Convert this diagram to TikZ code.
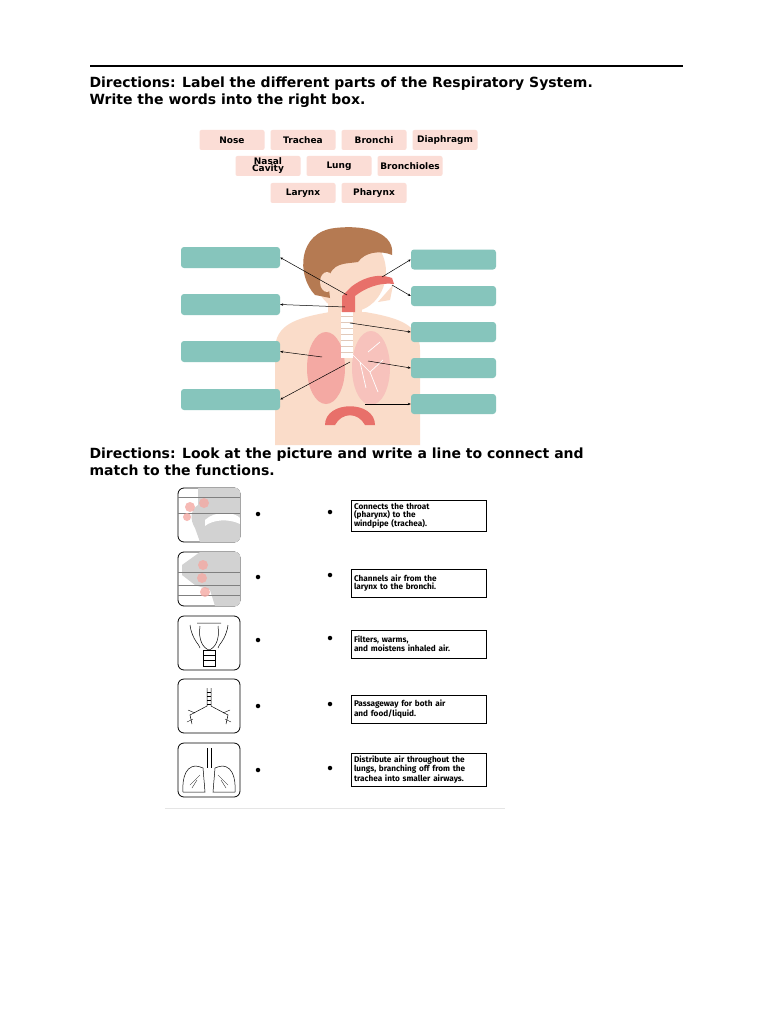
\documentclass[tikz,border=0pt]{standalone}
\usepackage{fontspec}
\setmainfont{DejaVu Sans}
\newfontfamily\smallf{Fira Sans}
\usetikzlibrary{arrows.meta}
\begin{document}
\begin{tikzpicture}[x=1pt,y=-1pt,
  word/.style={fill=pinkbox,rounded corners=2pt,minimum width=65pt,minimum height=20pt,inner sep=0pt,font=\fontsize{9}{8}\selectfont\bfseries,align=center},
  ans/.style={fill=teal1,rounded corners=3pt,inner sep=0pt},
  arr/.style={-{Stealth[length=3pt,width=2.5pt]},line width=0.5pt},
  icon/.style={draw,line width=0.8pt,rounded corners=6pt,minimum width=62pt,minimum height=54pt,inner sep=0pt},
  func/.style={draw,line width=0.6pt,minimum width=135pt,minimum height=28pt,inner sep=3pt,text width=129pt,align=left,font=\smallf\fontsize{8.2}{7.6}\selectfont\bfseries},
  dot/.style={circle,fill=black,inner sep=0pt,minimum size=4.5pt},
  dir/.style={anchor=west,font=\fontsize{14}{17}\selectfont\bfseries,align=left}]
\definecolor{pinkbox}{HTML}{FBDDD6}
\definecolor{teal1}{HTML}{86C5BC}
\definecolor{skin}{HTML}{FADCC9}
\definecolor{hair}{HTML}{B57A52}
\definecolor{lungA}{HTML}{F4A9A3}
\definecolor{lungB}{HTML}{F7C2BC}
\definecolor{redA}{HTML}{E8706A}
\useasboundingbox[fill=white] (0,0) rectangle (768,1024);
\draw[line width=2.5pt] (90,66) -- (683,66);
\node[dir] (d1) at (86,92) {Directions: Label the different parts of the Respiratory System.\\Write the words into the right box.};
\node[dir] (d2) at (86,462) {Directions: Look at the picture and write a line to connect and\\match to the functions.};
% word bank
\node[word] (w1) at (232,140) {Nose};
\node[word] (w2) at (303,140) {Trachea};
\node[word] (w3) at (374,140) {Bronchi};
\node[word] (w4) at (445,140) {Diaphragm};
\node[word,font=\fontsize{9}{7}\selectfont\bfseries] (w5) at (268,166) {Nasal\\Cavity};
\node[word] (w6) at (339,166) {Lung};
\node[word] (w7) at (410,166) {Bronchioles};
\node[word] (w8) at (303,193) {Larynx};
\node[word] (w9) at (374,193) {Pharynx};
% person
\fill[skin] (275,445) -- (275,350) .. controls (275,325) and (295,318) .. (330,312) -- (365,312) .. controls (400,318) and (420,325) .. (420,350) -- (420,445) -- cycle;
\fill[skin] (328,290) rectangle (362,320);
\fill[skin] (350,272) ellipse (36pt and 40pt);
\fill[skin] (393,285) -- (390,300) -- (378,302) -- cycle;
\fill[hair] (315,295) .. controls (296,275) and (298,232) .. (335,228) .. controls (370,224) and (395,235) .. (392,255) .. controls (380,250) and (365,252) .. (358,262) .. controls (345,264) and (332,262) .. (328,280) -- (330,298) -- cycle;
\fill[skin] (327,282) ellipse (7pt and 10pt);
\fill[lungA] (326,368) ellipse (19pt and 36pt);
\fill[lungB] (371,368) ellipse (19pt and 37pt);
\draw[white,line width=0.7pt] (350,352) -- (370,372) -- (378,392) (370,372) -- (383,360) (360,362) -- (366,388) (368,352) -- (380,342);
\fill[white] (341,312) rectangle (353,358);
\draw[skin!80!gray,line width=0.4pt] \foreach \y in {316,322,...,352} {(341,\y) -- (353,\y)};
\fill[redA] (342,296) -- (351,287) .. controls (360,280) and (375,272) .. (392,278) -- (394,284) .. controls (380,282) and (365,288) .. (355,296) -- (355,312) -- (342,312) -- cycle;
\fill[redA] (325,425) .. controls (325,400) and (375,400) .. (375,425) -- (365,425) .. controls (358,412) and (342,412) .. (335,425) -- cycle;
\coordinate (pL1) at (347,295); \coordinate (pL2) at (345,307);
\coordinate (pL3) at (322,357); \coordinate (pL4) at (350,362);
\coordinate (pR1) at (382,277); \coordinate (pR2) at (392,285);
\coordinate (pR3) at (350,323); \coordinate (pR4) at (368,361);
\coordinate (pR5) at (365,404);
% answer boxes
\node[ans,minimum width=99pt,minimum height=21pt] (l1) at (230.5,257.5) {};
\node[ans,minimum width=99pt,minimum height=21pt] (l2) at (230.5,304.5) {};
\node[ans,minimum width=99pt,minimum height=21pt] (l3) at (230.5,351.5) {};
\node[ans,minimum width=99pt,minimum height=21pt] (l4) at (230.5,399.5) {};
\node[ans,minimum width=85pt,minimum height=20pt] (r1) at (453.5,259.5) {};
\node[ans,minimum width=85pt,minimum height=20pt] (r2) at (453.5,296) {};
\node[ans,minimum width=85pt,minimum height=20pt] (r3) at (453.5,332) {};
\node[ans,minimum width=85pt,minimum height=20pt] (r4) at (453.5,368) {};
\node[ans,minimum width=85pt,minimum height=20pt] (r5) at (453.5,404) {};
\draw[arr] (pL1) -- (l1.east);
\draw[arr] (pL2) -- (l2.east);
\draw[arr] (pL3) -- (l3.east);
\draw[arr] (pL4) -- (l4.east);
\draw[arr] (pR1) -- (r1.west);
\draw[arr] (pR2) -- (r2.west);
\draw[arr] (pR3) -- (r3.west);
\draw[arr] (pR4) -- (r4.west);
\draw[arr] (pR5) -- (r5.west);
% matching section
\node[icon] (i1) at (209,515) {};
\node[icon] (i2) at (209,579) {};
\node[icon] (i3) at (209,643) {};
\node[icon] (i4) at (209,706) {};
\node[icon] (i5) at (209,770) {};
\begin{scope}
\clip[rounded corners=6pt] (i1.south west) rectangle (i1.north east);
\fill[gray!35] (198,488) -- (198,505) .. controls (190,510) and (190,520) .. (195,528) -- (200,542) -- (240,542) -- (240,488) -- cycle;
\fill[white] (205,520) .. controls (215,510) and (235,512) .. (240,518) -- (240,524) .. controls (228,518) and (212,520) .. (205,526) -- cycle;
\draw[gray,line width=0.3pt] (178,497)--(240,497) (178,513)--(240,513);
\fill[lungA,opacity=0.8] (190,507) circle (5pt) (204,503) circle (5pt) (187,517) circle (4pt);
\end{scope}
\begin{scope}
\clip[rounded corners=6pt] (i2.south west) rectangle (i2.north east);
\fill[gray!35] (182,565) -- (200,552) -- (240,552) -- (240,606) -- (215,606) -- (210,590) -- (195,585) -- (182,575) -- cycle;
\draw[gray,line width=0.3pt] (178,572)--(240,572) (178,585)--(240,585) (178,595)--(240,595);
\fill[lungA,opacity=0.8] (203,565) circle (5pt) (202,578) circle (5pt) (205,592) circle (5pt);
\end{scope}
\draw[line width=0.5pt] (197,623) -- (221,623) (200,626) .. controls (198,640) and (203,648) .. (209,650) .. controls (215,648) and (220,640) .. (218,626) (190,625) .. controls (192,640) and (200,645) .. (200,648) (228,625) .. controls (226,640) and (218,645) .. (218,648);
\draw[line width=0.5pt] (203,650) rectangle (215,666);
\draw[line width=0.4pt] (203,655)--(215,655) (203,660)--(215,660);
\draw[line width=0.5pt] (207,688) -- (207,706) -- (190,715) -- (192,724) (211,688) -- (211,706) -- (228,715) -- (226,724);
\draw[line width=0.4pt] \foreach \y in {692,696,...,704} {(207,\y)--(211,\y)};
\draw[line width=0.4pt] (195,713)--(188,710) (223,713)--(230,710) (193,719)--(187,722) (225,719)--(231,722);
\draw[line width=0.5pt] (207,748) -- (207,768) (211,748) -- (211,768);
\draw[line width=0.5pt] (203,768) .. controls (185,760) and (182,780) .. (183,792) -- (205,792) -- cycle (215,768) .. controls (233,760) and (236,780) .. (235,792) -- (213,792) -- cycle;
\draw[line width=0.3pt] (200,775)--(190,785) (197,780)--(192,788) (218,775)--(228,785) (221,780)--(226,788);
\fill[black!10] (165,808) rectangle (505,809);
\foreach \y/\n in {514/1,577/2,640/3,706/4,770/5} {
  \node[dot] (a\n) at (258,\y) {};
  \node[dot] (b\n) at (330,\y-2) {};
}
\node[func] (f1) at (418.5,516) {Connects the throat\\(pharynx) to the\\windpipe (trachea).};
\node[func] (f2) at (418.5,583) {Channels air from the\\larynx to the bronchi.};
\node[func] (f3) at (418.5,644) {Filters, warms,\\and moistens inhaled air.};
\node[func] (f4) at (418.5,709) {Passageway for both air\\and food/liquid.};
\node[func] (f5) at (418.5,769.5) {Distribute air throughout the\\lungs, branching off from the\\trachea into smaller airways.};
\end{tikzpicture}
\end{document}
